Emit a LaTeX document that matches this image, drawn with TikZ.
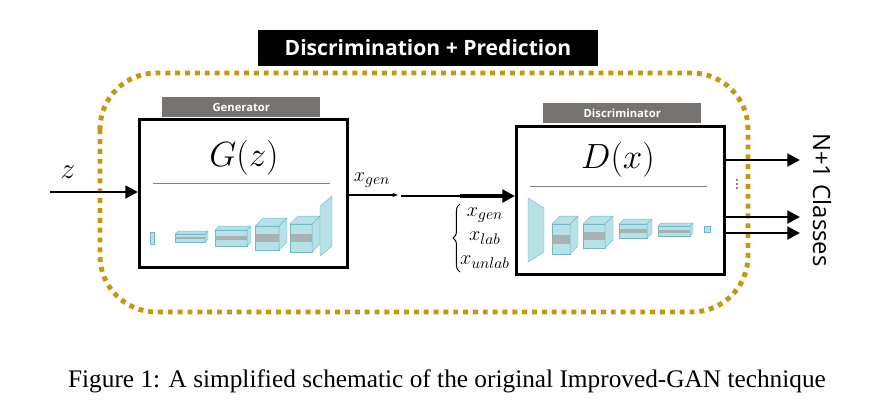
\documentclass[tikz,border=0pt]{standalone}
\usepackage{fontspec}
\setmainfont{Liberation Serif}
\newfontfamily\labelfont{Open Sans}
\usepackage{amsmath}
\usetikzlibrary{positioning,calc,arrows.meta,decorations.pathreplacing}

\definecolor{tabgray}{HTML}{767270}
\definecolor{gold}{HTML}{C8960C}
\definecolor{layercyan}{HTML}{A9DCE3}
\definecolor{layeredge}{HTML}{6FB8C4}

\tikzset{
  block/.style={draw,line width=2.4pt,minimum width=5.2cm,minimum height=3.7cm,anchor=north west},
  tab/.style={fill=tabgray,text=white,font=\labelfont\bfseries\footnotesize,minimum width=3.95cm,minimum height=0.5cm,anchor=north west,inner sep=0pt},
  bigarrow/.style={-{Triangle[length=9pt,width=9pt]},line width=2pt},
  thinarrow/.style={-{Stealth[length=4pt]},line width=0.8pt},
  layer/.style={fill=layercyan,draw=layeredge,line width=0.3pt,fill opacity=0.85}
}

% cuboid: x, y (front lower-left), width, height, depth
\newcommand{\netcube}[5]{%
  \fill[layer] (#1,#2) rectangle ++(#3,#4);
  \fill[layer] (#1,#2+#4) -- ++(#5,#5) -- ++(#3,0) -- ++(-#5,-#5) -- cycle;
  \fill[layer] (#1+#3,#2) -- ++(#5,#5) -- ++(0,#4) -- ++(-#5,-#5) -- cycle;
  \fill[gray!70,opacity=0.8] (#1+0.05,#2+0.35*#4) rectangle ++(#3-0.1,0.3*#4);
}

\begin{document}
\begin{tikzpicture}[x=0.025cm,y=-0.025cm]
\useasboundingbox (0,0) rectangle (895,404);

% outer frame
\draw[gold,line width=3.5pt,dash pattern=on 3.5pt off 3.5pt,rounded corners=40pt] (100,73) rectangle (748,312);
\node[fill=black,text=white,font=\labelfont\bfseries\fontsize{15}{18}\selectfont,minimum width=8.5cm,minimum height=0.9cm] (title) at (428,48) {Discrimination + Prediction};

% generator
\node[tab] (gtab) at (162,97) {Generator};
\node[block] (gen) at (138,118) {};
\node[font=\fontsize{26}{30}\selectfont] (gz) at (244,158) {$G(z)$};
\draw[gray] (153,183) -- (330,183);
\begin{scope}[y=0.025cm,yshift=-5.6cm]
  \fill[layer] (150,-20) rectangle (154,-8);
  \netcube{175}{-18}{30}{8}{3}
  \netcube{215}{-22}{32}{16}{4}
  \netcube{255}{-26}{24}{24}{8}
  \netcube{290}{-28}{22}{28}{8}
  \fill[layer] (320,-32) -- (332,-22) -- (332,28) -- (320,18) -- cycle;
\end{scope}

% discriminator
\node[tab] (dtab) at (543,103) {Discriminator};
\node[block] (disc) at (515,125) {};
\node[font=\fontsize{26}{30}\selectfont] (dx) at (618,160) {$D(x)$};
\draw[gray] (530,186) -- (707,186);
\begin{scope}[y=0.025cm,yshift=-5.75cm]
  \fill[layer] (528,-32) -- (544,-22) -- (544,22) -- (528,32) -- cycle;
  \netcube{552}{-24}{18}{30}{8}
  \netcube{583}{-18}{22}{24}{8}
  \netcube{619}{-8}{28}{14}{5}
  \netcube{658}{-6}{32}{10}{3}
  \fill[layer] (704,-2) rectangle (710,4);
\end{scope}

% inputs
\node[font=\fontsize{22}{26}\selectfont] (z) at (68,172) {$z$};
\coordinate (zin) at (50,192);
\draw[bigarrow] (zin) -- (zin -| gen.west);
\coordinate (gout) at (gen.east |- 0,195);
\coordinate (xgenend) at (398,195);
\draw[thinarrow] (gout) -- (xgenend);
\node[font=\fontsize{15}{18}\selectfont] (xgen) at (372,180) {$x_{gen}$};
\coordinate (mid) at (401,196);
\draw[line width=1.2pt] (mid) -- (460,196);
\draw[bigarrow,line width=3pt] (460,196) -- (mid -| disc.west);
\node[align=center,inner sep=1pt,font=\fontsize{15}{17}\selectfont] (inputs) at (485,238) {$x_{gen}$\\ $x_{lab}$\\ $x_{unlab}$};
\draw[decorate,decoration={brace,amplitude=5pt,mirror},line width=0.7pt] (460,204) -- (460,272);

% outputs
\foreach \yy/\nm in {160/oa,217/ob,233/oc}{
  \coordinate (\nm) at (800,\yy);
  \draw[bigarrow] (disc.east |- \nm) -- (\nm);
}
\foreach \dy in {180,184,188}{
  \fill (737,\dy) circle (0.6pt);
}
\node[rotate=-90,font=\labelfont\fontsize{17}{20}\selectfont] (classes) at (822,200) {N+1 Classes};

% caption
\node[font=\fontsize{18}{22}\selectfont] (caption) at (447,381) {Figure 1: A simplified schematic of the original Improved-GAN technique};
\end{tikzpicture}
\end{document}
